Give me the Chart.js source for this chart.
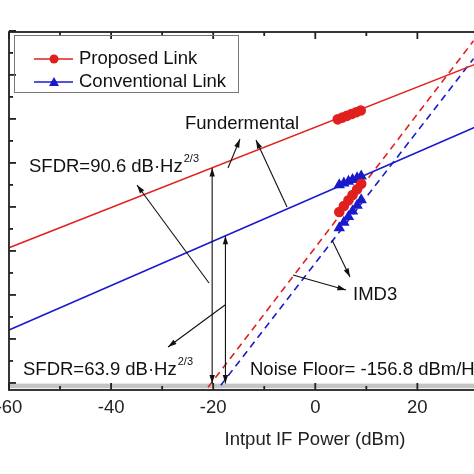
<!DOCTYPE html>
<html><head><meta charset="utf-8">
<script src="https://cdn.jsdelivr.net/npm/chart.js@4.4.1/dist/chart.umd.min.js"></script>
<style>html,body{margin:0;padding:0;background:#fff}#w{width:474px;height:474px}</style>
</head><body><div id="w"><canvas id="c"></canvas></div>
<script>
const xTickValues = [-60,-50,-40,-30,-20,-10,0,10,20];
const xTickLabels = ['-60','','-40','','-20','','0','','20'];
const yTickValues = [-160,-150,-140,-130,-120,-110,-100,-90,-80,-70,-60,-50,-40,-30,-20,-10,0];
const proposedFund = [{x:-60,y:-98.6},{x:31.3,y:-15.2}];
const conventionalFund = [{x:-60,y:-135.9},{x:31.3,y:-43.8}];
const proposedIMD3 = [{x:-21,y:-162},{x:31,y:-4.5}];
const conventionalIMD3 = [{x:-18.5,y:-161},{x:31,y:-12.6}];
const proposedFundPts = [{x:4.4,y:-40.2},{x:5.3,y:-39.4},{x:6.2,y:-38.6},{x:7.1,y:-37.8},{x:8.0,y:-37.0},{x:8.9,y:-36.2}];
const proposedIMD3Pts = [{x:4.7,y:-82.3},{x:5.6,y:-79.6},{x:6.5,y:-77.0},{x:7.3,y:-74.6},{x:8.2,y:-72.0},{x:9.0,y:-69.5}];
const conventionalFundPts = [{x:4.7,y:-70.0},{x:5.6,y:-69.2},{x:6.5,y:-68.4},{x:7.3,y:-67.6},{x:8.2,y:-66.8},{x:9.0,y:-66.0}];
const conventionalIMD3Pts = [{x:4.7,y:-89.5},{x:5.6,y:-87.0},{x:6.5,y:-84.4},{x:7.3,y:-81.9},{x:8.2,y:-79.3},{x:9.0,y:-76.8}];
const noiseBand = [-162.4,-160.3];
const RED='#e0201e', BLUE='#1a1acc';
const F='18.5px Arial, "Liberation Sans"';

function line(ctx,x1,y1,x2,y2,head1,head2){
  ctx.beginPath();ctx.moveTo(x1,y1);ctx.lineTo(x2,y2);ctx.stroke();
  const h=(xa,ya,xb,yb)=>{const a=Math.atan2(yb-ya,xb-xa),L=9,w=0.3;
    ctx.beginPath();ctx.moveTo(xb,yb);ctx.lineTo(xb-L*Math.cos(a-w),yb-L*Math.sin(a-w));
    ctx.lineTo(xb-L*Math.cos(a+w),yb-L*Math.sin(a+w));ctx.closePath();ctx.fill();};
  if(head2)h(x1,y1,x2,y2); if(head1)h(x2,y2,x1,y1);
}
const deco={id:'deco',
 beforeDraw(c){const ctx=c.ctx;ctx.save();ctx.fillStyle='#fff';ctx.fillRect(0,0,c.width,c.height);
   const X=c.scales.x,Y=c.scales.y,a=c.chartArea;ctx.fillStyle='#c4c4c4';
   ctx.fillRect(a.left,Y.getPixelForValue(noiseBand[1]),c.width,Y.getPixelForValue(noiseBand[0])-Y.getPixelForValue(noiseBand[1]));ctx.restore();},
 afterDraw(c){const ctx=c.ctx,X=c.scales.x,Y=c.scales.y,a=c.chartArea;ctx.save();
  ctx.strokeStyle='#222';ctx.lineWidth=1.8;
  ctx.strokeRect(a.left,a.top,c.width,a.bottom-a.top);
  xTickValues.forEach((v,i)=>{const p=X.getPixelForValue(v),L=xTickLabels[i]?7:4;
    ctx.beginPath();ctx.moveTo(p,a.bottom);ctx.lineTo(p,a.bottom-L);ctx.moveTo(p,a.top);ctx.lineTo(p,a.top+L);ctx.stroke();});
  yTickValues.forEach(v=>{const p=Y.getPixelForValue(v),L=(v%20===0)?7:4;
    ctx.beginPath();ctx.moveTo(a.left,p);ctx.lineTo(a.left+L,p);ctx.stroke();});
  ctx.fillStyle='#222';ctx.font=F;ctx.textAlign='center';ctx.textBaseline='middle';
  xTickValues.forEach((v,i)=>{if(xTickLabels[i])ctx.fillText(xTickLabels[i],X.getPixelForValue(v),a.bottom+18);});
  ctx.fillText('Intput IF Power (dBm)',315,440);
  ctx.lineWidth=1;ctx.strokeStyle='#777';ctx.strokeRect(14.5,35.5,224,57);
  ctx.lineWidth=1.5;
  ctx.strokeStyle=RED;ctx.beginPath();ctx.moveTo(34,59);ctx.lineTo(73,59);ctx.stroke();
  ctx.fillStyle=RED;ctx.beginPath();ctx.arc(54,59,4.5,0,7);ctx.fill();
  ctx.strokeStyle=BLUE;ctx.beginPath();ctx.moveTo(34,82);ctx.lineTo(73,82);ctx.stroke();
  ctx.fillStyle=BLUE;ctx.beginPath();ctx.moveTo(54,77);ctx.lineTo(59,86);ctx.lineTo(49,86);ctx.closePath();ctx.fill();
  ctx.fillStyle='#111';ctx.textAlign='left';ctx.font=F;
  ctx.fillText('Proposed Link',79,59);ctx.fillText('Conventional Link',79,82);
  ctx.fillText('Fundermental',185,124);ctx.fillText('IMD3',353,295);
  const sup=(t,x,y)=>{ctx.font=F;ctx.fillText(t,x,y);const w=ctx.measureText(t).width;ctx.font='11px Arial, "Liberation Sans"';ctx.fillText('2/3',x+w+1,y-8);ctx.font=F;};
  sup('SFDR=90.6 dB·Hz',29,167);sup('SFDR=63.9 dB·Hz',23,370);
  ctx.fillText('Noise Floor= -156.8 dBm/Hz',250,370);
  ctx.strokeStyle='#111';ctx.fillStyle='#111';ctx.lineWidth=1.1;
  line(ctx,228,168,240,139,false,true);line(ctx,287,207,256,140,false,true);
  line(ctx,209,283,137,185,false,true);line(ctx,225,305,168,347,false,true);
  line(ctx,332,240,350,277,false,true);line(ctx,293,275,346,290,false,true);
  const x1=X.getPixelForValue(-20.2),x2=X.getPixelForValue(-17.6),yb=Y.getPixelForValue(-160.3);
  line(ctx,x1,Y.getPixelForValue(-62.3),x1,yb,true,true);
  line(ctx,x2,Y.getPixelForValue(-93.1),x2,yb,true,true);
  ctx.restore();}};
const ds=(d,col,extra)=>Object.assign({data:d,borderColor:col,backgroundColor:col,showLine:true,pointRadius:0,borderWidth:1.6,clip:false},extra||{});
new Chart(document.getElementById('c'),{type:'scatter',
 data:{datasets:[
  ds(proposedFund,RED),ds(conventionalFund,BLUE),
  ds(proposedIMD3,RED,{borderDash:[7,5]}),ds(conventionalIMD3,BLUE,{borderDash:[7,5]}),
  ds(proposedFundPts,RED,{showLine:false,pointRadius:4.5}),ds(proposedIMD3Pts,RED,{showLine:false,pointRadius:4.5}),
  ds(conventionalFundPts,BLUE,{showLine:false,pointRadius:5,pointStyle:'triangle'}),ds(conventionalIMD3Pts,BLUE,{showLine:false,pointRadius:5,pointStyle:'triangle'})]},
 options:{responsive:true,maintainAspectRatio:false,animation:false,
  layout:{padding:{left:9,top:32,right:0,bottom:84}},
  plugins:{legend:{display:false},tooltip:{enabled:false}},
  scales:{x:{type:'linear',min:-60,max:29.8,afterBuildTicks:s=>{s.ticks=xTickValues.map(v=>({value:v}));},
     grid:{display:false,drawTicks:false},border:{display:false},ticks:{display:false}},
   y:{type:'linear',min:-163.2,max:-0.5,afterBuildTicks:s=>{s.ticks=yTickValues.map(v=>({value:v}));},
     grid:{display:false,drawTicks:false},border:{display:false},ticks:{display:false}}}},
 plugins:[deco]});
</script></body></html>
